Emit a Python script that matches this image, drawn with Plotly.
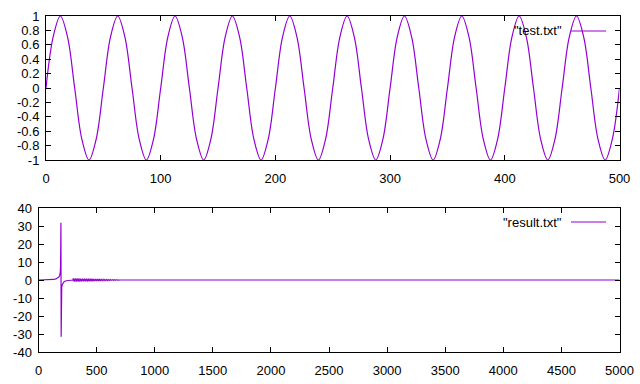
import plotly.graph_objects as go

W, H = 640, 384

# ---- top panel data ("test.txt") : samples read every 6.25 units ----
test_x = [i * 6.25 for i in range(81)]
test_y = [0, 0.71, 1, 0.71, 0, -0.71, -1, -0.71,
          0, 0.71, 1, 0.71, 0, -0.71, -1, -0.71,
          0, 0.71, 1, 0.71, 0, -0.71, -1, -0.71,
          0, 0.71, 1, 0.71, 0, -0.71, -1, -0.71,
          0, 0.71, 1, 0.71, 0, -0.71, -1, -0.71,
          0, 0.71, 1, 0.71, 0, -0.71, -1, -0.71,
          0, 0.71, 1, 0.71, 0, -0.71, -1, -0.71,
          0, 0.71, 1, 0.71, 0, -0.71, -1, -0.71,
          0, 0.71, 1, 0.71, 0, -0.71, -1, -0.71,
          0, 0.71, 1, 0.71, 0, -0.71, -1, -0.71,
          0]

# ---- bottom panel data ("result.txt") ----
spike_x = [0, 50, 100, 130, 150, 165, 175, 182, 187, 190, 192, 193, 195, 197, 200, 205, 212, 222, 240, 270, 296]
spike_y = [0, 0, 0.1, 0.3, 0.6, 1.0, 1.6, 2.5, 4.0, 8.0, 15.0, 31.8, -31.5, -8.0, -4.0, -2.5, -1.5, -0.8, -0.4, -0.1, 0]
osc_x = [300 + 8 * i for i in range(50)]
osc_y = [0.9, -0.9, 0.9, -0.9, 0.9, -0.9, 0.9, -0.9, 0.8, -0.8,
         0.8, -0.8, 0.8, -0.8, 0.8, -0.8, 0.7, -0.7, 0.7, -0.7,
         0.7, -0.7, 0.6, -0.6, 0.6, -0.6, 0.5, -0.5, 0.5, -0.5,
         0.4, -0.4, 0.4, -0.4, 0.3, -0.3, 0.3, -0.3, 0.25, -0.25,
         0.2, -0.2, 0.2, -0.2, 0.15, -0.15, 0.1, -0.1, 0.1, -0.1]
tail_x = [700, 5000]
tail_y = [0, 0]
result_x = spike_x + osc_x + tail_x
result_y = spike_y + osc_y + tail_y

# ---- ticks ----
top_xticks = [0, 100, 200, 300, 400, 500]
top_yticks = [1, 0.8, 0.6, 0.4, 0.2, 0, -0.2, -0.4, -0.6, -0.8, -1]
top_ylabels = ["1", "0.8", "0.6", "0.4", "0.2", "0", "-0.2", "-0.4", "-0.6", "-0.8", "-1"]
bot_xticks = [0, 500, 1000, 1500, 2000, 2500, 3000, 3500, 4000, 4500, 5000]
bot_yticks = [40, 30, 20, 10, 0, -10, -20, -30, -40]
bot_ylabels = ["40", "30", "20", "10", "0", "-10", "-20", "-30", "-40"]

COLOR = "#9400D3"
FONT = dict(family="Liberation Sans, Arial, sans-serif", size=13, color="black")


def px_x(p):
    return p / W


def px_y(p):
    return 1 - p / H


fig = go.Figure()
fig.add_trace(go.Scatter(x=test_x, y=test_y, mode="lines", line=dict(color=COLOR, width=1.2, shape="spline"),
                         xaxis="x", yaxis="y", showlegend=False, hoverinfo="skip"))
fig.add_trace(go.Scatter(x=result_x, y=result_y, mode="lines", line=dict(color=COLOR, width=1.2),
                         xaxis="x2", yaxis="y2", showlegend=False, hoverinfo="skip"))

axis_common = dict(showline=True, linecolor="black", linewidth=1, mirror="ticks", ticks="inside",
                   ticklen=5, tickcolor="black", tickwidth=1, showgrid=False, zeroline=False,
                   tickfont=FONT, automargin=False)

fig.update_layout(
    template="none",
    width=W, height=H, margin=dict(l=0, r=0, t=0, b=0, autoexpand=False),
    paper_bgcolor="white", plot_bgcolor="white", font=FONT,
    xaxis=dict(domain=[px_x(46), px_x(619.5)], range=[0, 500], anchor="y",
               tickvals=top_xticks, ticklabelstandoff=6, **axis_common),
    yaxis=dict(domain=[px_y(160), px_y(16)], range=[-1, 1], anchor="x",
               tickvals=top_yticks, ticktext=top_ylabels, ticklabelstandoff=3, **axis_common),
    xaxis2=dict(domain=[px_x(38.5), px_x(619.5)], range=[0, 5000], anchor="y2",
                tickvals=bot_xticks, ticklabelstandoff=6, **axis_common),
    yaxis2=dict(domain=[px_y(352), px_y(208)], range=[-40, 40], anchor="x2",
                tickvals=bot_yticks, ticktext=bot_ylabels, ticklabelstandoff=3, **axis_common),
)

# gnuplot-style keys: text right-aligned, sample line to the right
for label, ty in [('"test.txt"', 31), ('"result.txt"', 222)]:
    fig.add_annotation(x=px_x(564), y=px_y(ty), xref="paper", yref="paper", text=label,
                       showarrow=False, xanchor="right", yanchor="middle", font=FONT)
    fig.add_shape(type="line", xref="paper", yref="paper", x0=px_x(571), x1=px_x(606),
                  y0=px_y(ty), y1=px_y(ty), line=dict(color=COLOR, width=1.2))

fig.write_html("out.html")
